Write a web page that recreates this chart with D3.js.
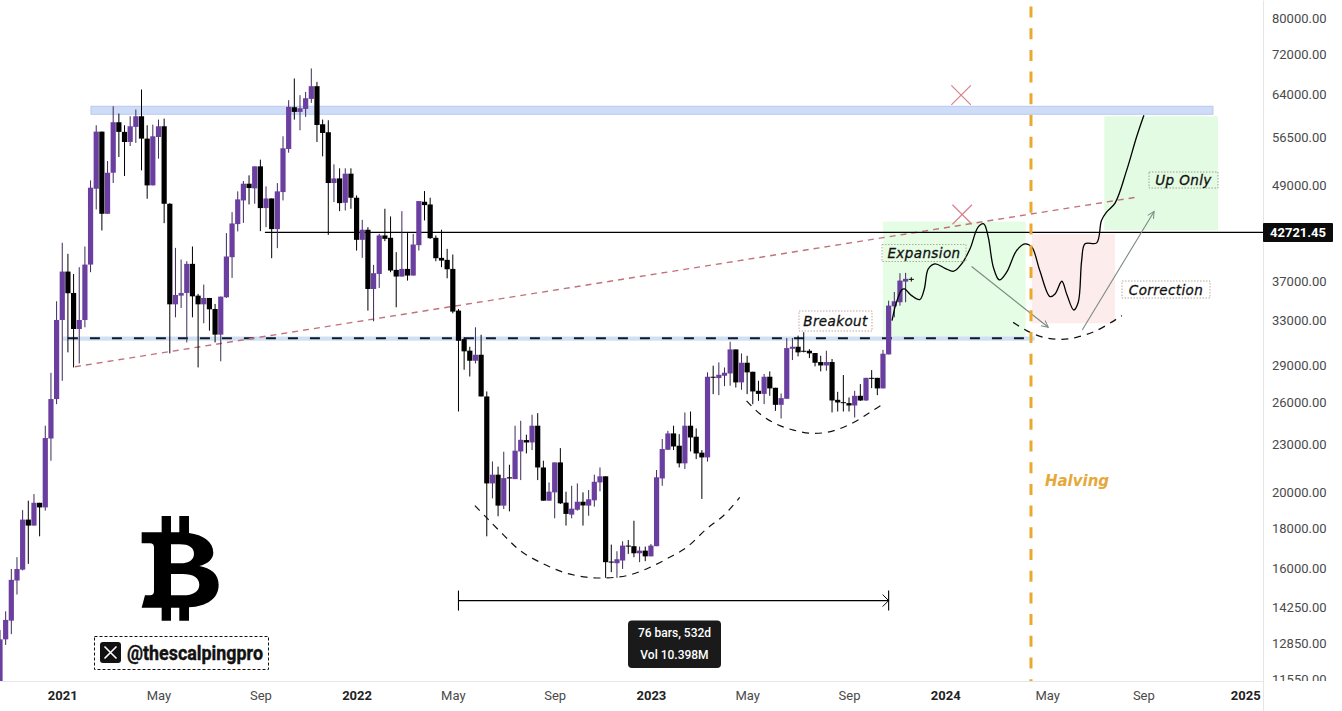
<!DOCTYPE html>
<html>
<head>
<meta charset="utf-8">
<title>BTC weekly</title>
<script src="https://cdn.jsdelivr.net/npm/d3@7/dist/d3.min.js"></script>
<style>
html, body { margin: 0; padding: 0; background: #fff; overflow: hidden; }
svg { display: block; }
.tag { font-family: "DejaVu Sans", sans-serif; font-style: italic; font-size: 13.5px; letter-spacing: 0.4px; fill: #111; stroke: #111; stroke-width: 0.3px; text-anchor: middle; dominant-baseline: central; }
</style>
</head>
<body>
<div id="chart"></div>
<script>
// weekly candles, bar 0 = week of 4 Jan 2021, first bar in the lists is bar -11
var firstBar = -11;
var opens = [
	11490,12990,13720,15430,15930,18440,18120,19370,19110,23380,26240,
	33070,38100,35790,32210,33070,38890,48550,57380,45120,50880,
	58980,57340,55670,58180,60020,56220,49030,56490,58290,46460,
	34620,35510,35790,38970,35510,34620,35270,34150,31680,35340,
	39740,43780,46920,49270,48600,51840,45880,47190,43140,48080,
	54540,61630,60790,61320,63150,65540,58630,57280,49370,50040,
	46600,50740,47290,41810,43060,36210,37840,42350,42060,38290,
	37550,38400,37660,41160,46740,46370,42060,39660,39430,38400,
	33990,31270,30230,29350,29870,26440,20500,21030,19210,20870,
	20760,22510,23270,23110,24270,21480,19490,19970,21800,19380,
	18710,18980,19430,19210,19510,20560,20930,16310,16230,16360,
	17090,17060,16710,16840,16560,17060,20800,22620,23730,22890,
	21740,24270,23500,22430,22120,28010,27900,28090,28280,30340,
	27550,29180,28420,26880,26640,28010,27120,25800,26260,30400,
	30580,30220,30220,30020,29240,28950,29240,26180,26000,25930,
	25750,26490,26130,27920,27920,27070,29900,34420,34830,37000,37300
];
var closes = [
	12990,13750,15460,15960,18440,18120,19370,19110,23410,26240,33070,
	38100,35760,32210,33070,38890,48700,57380,45120,50880,58980,
	57340,55670,58290,60020,56220,49030,56600,58290,46460,34620,
	35580,35790,38970,35440,34620,35270,34120,31680,35410,39820,
	43860,47060,49270,48650,51840,45880,47190,43140,48180,54650,
	61690,60790,61440,63270,65540,58510,57160,49370,50040,46550,
	50740,47290,41810,43060,36210,37920,42350,41930,38220,37550,
	38400,37660,41240,46830,46280,42010,39620,39350,38360,33890,
	31120,30170,29350,29870,26440,20500,21030,19210,20820,20800,
	22560,23290,23110,24270,21480,19490,20010,21800,19340,18750,
	19040,19430,19220,19570,20600,20930,16280,16260,16420,17090,
	17040,16710,16840,16560,17090,20870,22670,23730,22840,21740,
	24270,23450,22380,22120,28010,27950,28170,28340,30340,27550,
	29180,28370,26830,26640,28010,27070,25800,26310,30460,30580,
	30080,30130,29990,29180,28950,29240,26130,25980,25930,25750,
	26490,26130,27920,27870,27070,29960,34490,34930,37110,37300,37220
];
var highs = [
	13350,14100,15960,16520,18960,19490,19870,19370,24270,28330,34930,
	41450,40130,37840,38590,41000,49750,58460,57380,52650,61810,
	60490,58460,60020,61210,64900,58460,58570,59440,59610,46550,
	40840,39470,39280,41000,35690,36680,35270,34660,35410,42640,
	45340,48180,49660,50490,51840,52860,48880,47190,49360,56600,
	62910,67030,63840,64460,69030,66380,59440,59320,52140,51540,
	51540,51540,47610,44330,43390,38860,42550,45790,44770,40330,
	45470,42640,42550,46830,48220,47290,42350,43060,40720,40050,
	34150,31430,30580,32370,31670,26830,21860,21530,22490,21650,
	24270,24620,23640,25060,25180,21910,20560,21800,22730,20010,
	20360,20500,19970,20110,21030,21480,20930,17140,16810,17310,
	17370,18380,17040,17040,17170,21320,23340,23910,24270,23680,
	25230,25300,24080,22600,28370,28930,29210,28780,31030,30340,
	29990,29780,28420,27680,28230,28450,27120,26670,31370,31370,
	31590,31910,30370,30020,29780,30220,29500,26800,28150,26360,
	26880,27410,27920,28560,27920,30300,34990,35900,37920,37960,37480
];
var lows = [
	11490,12780,13190,14810,15890,16200,18120,17560,18930,21910,25850,
	27680,30080,28780,29120,32370,38030,45700,42970,45120,49370,
	53280,50390,55020,55510,51230,47150,49030,53020,43900,29990,
	33330,34250,30970,33330,28780,32750,32050,30970,29300,35270,
	37400,42850,43940,46370,46460,42890,43390,39620,40800,46920,
	53950,59440,57610,59910,62420,55670,53380,42420,46690,45470,
	45560,45790,40520,39660,33990,32940,36320,41650,38030,34320,
	37550,37110,37660,40520,44250,41930,39270,38590,37360,33720,
	25300,28590,28030,29120,26440,17560,19620,18620,19020,18890,
	20760,20700,22380,22600,20700,19490,19490,18510,19300,18120,
	18510,18930,18120,18650,19150,20030,15550,15810,15550,15960,
	16680,16520,16280,16330,16560,17060,20360,22620,22600,21480,
	21380,22510,22010,19590,21850,26620,26540,27250,27280,27140,
	26960,26620,25850,26100,25850,26490,25350,24790,26260,29410,
	29730,30080,29580,28870,28450,28500,25230,25300,25300,25300,
	24860,26100,26100,27090,26540,27070,29900,33330,34490,34830,37000
];

var priceTicks = [80000,72000,64000,56500,49000,37000,33000,29000,26000,23000,20000,18000,16000,14250,12850,11550];
var tickBars = [0,17,35,52,69,87,104,121,139,156,174,191,209];
var tickLabels = ["2021","May","Sep","2022","May","Sep","2023","May","Sep","2024","May","Sep","2025"];
var lastPrice = 42721.45;

// drawn forecast
var pathBars = [146.6,147.3,148.3,148.8,150.06,151.5,152.3,153,154.2,155.95,157.5,158.9,160.4,161.8,162.8,163.6,164.5,165.55,166.85,168.6,170.1,171.3,172.7,174.5,175.4,176.6,177.45,178.7,179.5,180.1,180.7,182.75,183.6,184.5,186,188.05,189.8,191.1];
var pathPrices = [33000,34690,36110,36210,35510,35100,36210,38400,38970,38470,38140,38970,40760,43390,43820,42140,38590,37180,38030,40520,41320,40920,38220,35410,35690,37040,35690,34050,34830,39350,41320,41440,44250,45340,46550,51230,56490,60200];

// rounded bottoms
var bigArcBars = [72.9,75,77.9,80.9,84.4,88.5,92.6,96.2,99.7,103.2,106.8,110.3,113.8,116.8,119.7];
var bigArcPrices = [19210,18530,17650,16840,16280,15810,15580,15550,15650,15960,16440,17000,17940,18650,19680];
var midArcBars = [120.9,123.3,126.2,129.2,132.7,136.2,139.8,142.7,145.4];
var midArcPrices = [26100,25110,24380,23960,23730,23910,24500,25230,25980];
var rightArcBars = [168,171,173.9,176.6,179.2,182.7,187.2];
var rightArcPrices = [32840,31890,31370,31250,31430,32050,33490];

var width = 1342, height = 711, plotRight = 1263, plotBottom = 681;

var x = d3.scaleLinear().domain([-11, 212.14]).range([0, plotRight]);
var y = d3.scaleLog().domain([84340, 11449]).range([0, 682.5]);

var svg = d3.select("#chart").append("svg")
	.attr("width", width)
	.attr("height", height)
	.style("background", "#fff");

var defs = svg.append("defs");
defs.append("clipPath").attr("id", "plotClip").append("rect")
	.attr("width", plotRight).attr("height", plotBottom);
defs.append("clipPath").attr("id", "axisClip").append("rect")
	.attr("x", plotRight).attr("width", width - plotRight).attr("height", plotBottom);
defs.append("marker").attr("id", "openHead")
	.attr("viewBox", "-10 -6 12 12").attr("markerWidth", 10).attr("markerHeight", 10)
	.attr("markerUnits", "userSpaceOnUse").attr("orient", "auto")
	.append("path").attr("d", "M-8,-4L0,0L-8,4").attr("fill", "none").attr("stroke", "#7d8a80").attr("stroke-width", 1.2);

var plot = svg.append("g").attr("clip-path", "url(#plotClip)");

/**  zones  **/
function zone(b0, b1, p0, p1, fill, stroke) {
	plot.append("rect")
		.attr("x", x(b0)).attr("y", y(p0))
		.attr("width", x(b1) - x(b0)).attr("height", y(p1) - y(p0))
		.attr("fill", fill)
		.attr("stroke", stroke || "none");
}
zone(145, 170.2, 44100, 31400, "#e5fce5");
zone(184.1, 204.2, 60000, 43000, "#e3fbe3");
zone(171.3, 186, 42500, 32750, "#fdecec");
zone(5.07, 203.3, 61800, 60370, "#cfdcf8", "#b9c9ef");
zone(0.1, 171.8, 31510, 31120, "#cfe0f5");

/**  levels  **/
plot.append("line")
	.attr("x1", x(1)).attr("x2", x(170.4))
	.attr("y1", y(31350)).attr("y2", y(31350))
	.attr("stroke", "#11172a").attr("stroke-width", 2).attr("stroke-dasharray", "10 12");
plot.append("line")
	.attr("x1", x(2.24)).attr("x2", x(189.5))
	.attr("y1", y(28840)).attr("y2", y(47330))
	.attr("stroke", "#c0737c").attr("stroke-width", 1.4).attr("stroke-dasharray", "6 5");
plot.append("line")
	.attr("x1", x(35.8)).attr("x2", plotRight)
	.attr("y1", y(lastPrice)).attr("y2", y(lastPrice))
	.attr("stroke", "#000").attr("stroke-width", 1.2);

/**  candles  **/
var candles = plot.selectAll(".candle")
	.data(opens)
	.enter()
	.append("g")
	.attr("class", "candle")
	.attr("transform", function(d, i) { return "translate(" + x(i + firstBar) + ",0)"; });

candles.append("line")
	.attr("y1", function(d, i) { return y(highs[i]); })
	.attr("y2", function(d, i) { return y(lows[i]); })
	.attr("stroke", function(d, i) { return closes[i] >= d ? "#3d2a58" : "#000"; })
	.attr("stroke-width", 1);

candles.append("rect")
	.attr("x", -2.6)
	.attr("width", 5.2)
	.attr("y", function(d, i) { return y(Math.max(d, closes[i])); })
	.attr("height", function(d, i) { return Math.max(1, Math.abs(y(d) - y(closes[i]))); })
	.attr("fill", function(d, i) { return closes[i] >= d ? "#6b3fa0" : "#000"; });

/**  forecast + arcs  **/
function curve(bars, prices, stroke, sw, dash) {
	var line = d3.line()
		.x(function(d) { return x(d); })
		.y(function(d, i) { return y(prices[i]); })
		.curve(d3.curveCatmullRom);
	plot.append("path")
		.attr("d", line(bars))
		.attr("fill", "none")
		.attr("stroke", stroke)
		.attr("stroke-width", sw)
		.attr("stroke-dasharray", dash || null);
}
curve(bigArcBars, bigArcPrices, "#111", 1.2, "7 6");
curve(midArcBars, midArcPrices, "#111", 1.2, "7 6");
curve(rightArcBars, rightArcPrices, "#111", 1.3, "7 6");
curve(pathBars, pathPrices, "#000", 1.3);

/**  arrows  **/
function arrow(b0, p0, b1, p1) {
	plot.append("line")
		.attr("x1", x(b0)).attr("y1", y(p0))
		.attr("x2", x(b1)).attr("y2", y(p1))
		.attr("stroke", "#7d8a80").attr("stroke-width", 1.1)
		.attr("marker-end", "url(#openHead)");
}
arrow(160.66, 38670, 174.2, 32370);
arrow(180.2, 32110, 192.9, 45430);

/**  red crosses  **/
[[158.8, 63840], [159, 45030]].forEach(function(d) {
	plot.append("path")
		.attr("d", d3.symbol(d3.symbolTimes, 250)())
		.attr("transform", "translate(" + x(d[0]) + "," + y(d[1]) + ")")
		.attr("fill", "none")
		.attr("stroke", "#d9808a")
		.attr("stroke-width", 1.2);
});

/**  halving line  **/
plot.append("line")
	.attr("x1", x(171.15)).attr("x2", x(171.15))
	.attr("y1", -15.2).attr("y2", plotBottom)
	.attr("stroke", "#e8a92e").attr("stroke-width", 3).attr("stroke-dasharray", "11 10.7");

/**  measure tool  **/
var measureY = y(14550);
plot.append("line").attr("x1", x(70)).attr("x2", x(146)).attr("y1", measureY).attr("y2", measureY)
	.attr("stroke", "#000").attr("stroke-width", 1.1);
[70, 146].forEach(function(b) {
	plot.append("line").attr("x1", x(b)).attr("x2", x(b)).attr("y1", measureY - 10).attr("y2", measureY + 10)
		.attr("stroke", "#000").attr("stroke-width", 1.1);
});
plot.append("path")
	.attr("d", "M-6,-6L0,0L-6,6")
	.attr("transform", "translate(" + x(146) + "," + measureY + ")")
	.attr("fill", "none").attr("stroke", "#000").attr("stroke-width", 1);

/**  labels  **/
var tags = [
	{ text: "Breakout", cx: 835.5, cy: 321, w: 73, h: 20, border: "#c4a49c" },
	{ text: "Expansion", cx: 924, cy: 253, w: 84, h: 17, border: "#b3ad8c" },
	{ text: "Up Only", cx: 1183.5, cy: 180, w: 69, h: 16, border: "#9aa58a" },
	{ text: "Correction", cx: 1166, cy: 289.5, w: 88, h: 17, border: "#b9a9a0" }
];
tags.forEach(function(t) {
	svg.append("rect")
		.attr("x", t.cx - t.w / 2).attr("y", t.cy - t.h / 2)
		.attr("width", t.w).attr("height", t.h)
		.attr("fill", "none")
		.attr("stroke", t.border)
		.attr("stroke-dasharray", "1.5 1.5");
	svg.append("text").attr("class", "tag").attr("x", t.cx).attr("y", t.cy).text(t.text);
});

svg.append("text")
	.attr("x", 1077).attr("y", 481)
	.attr("text-anchor", "middle").attr("dominant-baseline", "central")
	.style("font-family", "'DejaVu Sans', sans-serif")
	.style("font-style", "italic").style("font-weight", "bold").style("font-size", "15px")
	.attr("fill", "#e6a83a")
	.text("Halving");

/**  measure tooltip  **/
svg.append("rect")
	.attr("x", 628).attr("y", 620.5).attr("width", 93).attr("height", 47.5).attr("rx", 4)
	.attr("fill", "#1a1a1a");
svg.selectAll(".tip")
	.data(["76 bars, 532d", "Vol 10.398M"])
	.enter()
	.append("text")
	.attr("class", "tip")
	.attr("x", 674.5)
	.attr("y", function(d, i) { return 633 + i * 22; })
	.attr("text-anchor", "middle").attr("dominant-baseline", "central")
	.style("font-family", "Roboto, sans-serif").style("font-size", "12px").style("font-weight", "500")
	.attr("fill", "#fff")
	.text(function(d) { return d; });

/**  bitcoin logo + handle  **/
svg.append("path")
	.attr("transform", "translate(0,500) scale(0.3333)")
	.attr("fill-rule", "evenodd")
	.attr("fill", "#000")
	.attr("d", "M485,48H513V97H538V48H567V99C610,105 640,125 640,158C640,178 622,192 598,198C632,204 656,222 656,254C656,296 622,318 567,322V362H538V323H513V362H485V323H425L435,286H450C458,286 462,282 462,274V142C462,134 458,130 450,130H425V97H485Z"
		+ "M513,133V190H540C566,190 582,180 582,161C582,143 566,133 540,133Z"
		+ "M513,222V286H548C580,286 598,274 598,254C598,234 580,222 548,222Z");

svg.append("rect")
	.attr("x", 94.5).attr("y", 636.5).attr("width", 174).attr("height", 33)
	.attr("fill", "#fff").attr("stroke", "#111").attr("stroke-dasharray", "3 2");
svg.append("rect")
	.attr("x", 100).attr("y", 642).attr("width", 21).attr("height", 21).attr("rx", 3)
	.attr("fill", "#111");
svg.append("path")
	.attr("d", "M104.5,646.5L116.5,658.5M116.5,646.5L104.5,658.5")
	.attr("stroke", "#fff").attr("stroke-width", 1.6).attr("fill", "none");
svg.append("text")
	.attr("x", 127).attr("y", 659.5)
	.attr("textLength", 136).attr("lengthAdjust", "spacingAndGlyphs")
	.style("font-family", "Roboto, sans-serif").style("font-weight", "bold").style("font-size", "21px")
	.attr("fill", "#111").attr("stroke", "#111").attr("stroke-width", 0.4)
	.text("@thescalpingpro");

/**  axes  **/
var xAxis = d3.axisBottom(x)
	.tickValues(tickBars)
	.tickSize(0)
	.tickPadding(10)
	.tickFormat(function(d, i) { return tickLabels[i]; });

var xG = svg.append("g")
	.attr("transform", "translate(0," + plotBottom + ")")
	.call(xAxis);
xG.select(".domain").attr("stroke", "#e4e6ea");
xG.selectAll("text")
	.style("font-family", "Roboto, sans-serif")
	.style("font-size", "13px")
	.style("font-weight", function(d, i) { return /^\d/.test(tickLabels[i]) ? "bold" : "normal"; })
	.attr("fill", function(d, i) { return /^\d/.test(tickLabels[i]) ? "#222" : "#4a4a4a"; });

var yAxis = d3.axisRight(y)
	.tickValues(priceTicks)
	.tickSize(0)
	.tickPadding(9)
	.tickFormat(d3.format(".2f"));

var yClip = svg.append("g").attr("clip-path", "url(#axisClip)");
var yG = yClip.append("g")
	.attr("transform", "translate(" + plotRight + ",0)")
	.call(yAxis);
yG.select(".domain").attr("stroke", "#e4e6ea");
yG.selectAll("text")
	.style("font-family", "Roboto, sans-serif")
	.style("font-size", "13px")
	.attr("fill", "#4a4a4a");

svg.append("line")
	.attr("x1", plotRight + 0.5).attr("x2", plotRight + 0.5)
	.attr("y1", plotBottom).attr("y2", height)
	.attr("stroke", "#e4e6ea");

/**  last price tag  **/
svg.append("rect")
	.attr("x", plotRight).attr("y", y(lastPrice) - 9.5)
	.attr("width", 70).attr("height", 19).attr("rx", 1)
	.attr("fill", "#0b0b0b");
svg.append("text")
	.attr("x", plotRight + 35).attr("y", y(lastPrice))
	.attr("text-anchor", "middle").attr("dominant-baseline", "central")
	.style("font-family", "Roboto, sans-serif").style("font-size", "13px").style("font-weight", "bold")
	.attr("fill", "#fff")
	.text(d3.format(".2f")(lastPrice));
</script>
</body>
</html>
